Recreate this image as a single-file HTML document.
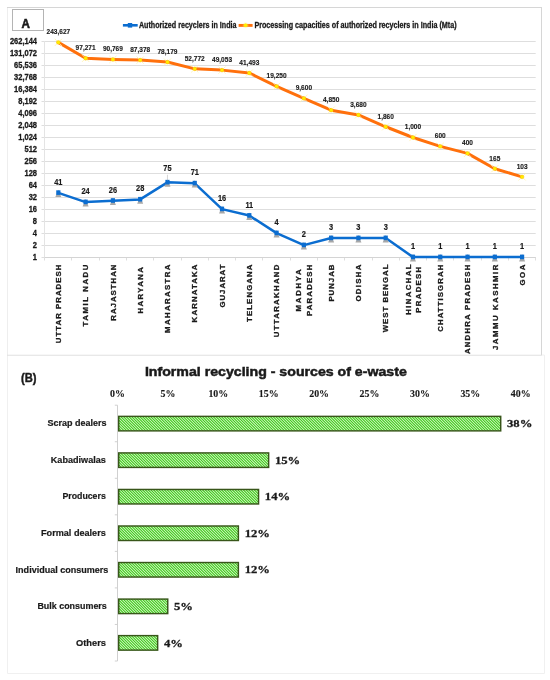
<!DOCTYPE html>
<html><head><meta charset="utf-8"><style>
html,body{margin:0;padding:0;background:#fff;}
body{width:550px;height:680px;overflow:hidden;}
svg{display:block;}
text{font-family:"Liberation Sans",Arial,sans-serif;font-weight:bold;fill:#1a1a1a;stroke:#1a1a1a;stroke-width:0.3px;}
.serif{font-family:"Liberation Serif","Times New Roman",serif;stroke-width:0.12px;}
</style></head><body>
<svg width="550" height="680" viewBox="0 0 550 680">
<defs>
<radialGradient id="glow"><stop offset="0" stop-color="#ffe000" stop-opacity="0.9"/><stop offset="1" stop-color="#fff2a0" stop-opacity="0"/></radialGradient>
<pattern id="hatch" patternUnits="userSpaceOnUse" width="1.92" height="4" patternTransform="rotate(-45)">
<rect width="1.92" height="4" fill="#f0fbe8"/><rect width="0.96" height="4" fill="#46cc22"/></pattern>
</defs>
<rect width="550" height="680" fill="#fff"/>
<path d="M7.5 355 V673.5 H544.5 V355 H541" fill="none" stroke="#f0f0f0" stroke-width="1"/>
<line x1="7.5" y1="7.5" x2="7.5" y2="355" stroke="#eeeeee" stroke-width="1"/>
<line x1="7" y1="7.5" x2="541.5" y2="7.5" stroke="#d6d6d6" stroke-width="1"/>
<line x1="541.5" y1="7" x2="541.5" y2="355" stroke="#d6d6d6" stroke-width="1"/>
<line x1="7" y1="355.3" x2="541.8" y2="355.3" stroke="#e0e0e0" stroke-width="1.1"/>
<rect x="12.5" y="9.5" width="31" height="21" fill="#fff" stroke="#b4b4b4" stroke-width="1"/>
<text x="25.6" y="28.3" font-size="13.2" text-anchor="middle" textLength="8.4" lengthAdjust="spacingAndGlyphs" style="stroke-width:0.6px">A</text>
<line x1="41.5" y1="257.50" x2="535.7" y2="257.50" stroke="#dedede" stroke-width="1"/>
<line x1="41.5" y1="245.50" x2="535.7" y2="245.50" stroke="#dedede" stroke-width="1"/>
<line x1="41.5" y1="233.50" x2="535.7" y2="233.50" stroke="#dedede" stroke-width="1"/>
<line x1="41.5" y1="221.50" x2="535.7" y2="221.50" stroke="#dedede" stroke-width="1"/>
<line x1="41.5" y1="209.50" x2="535.7" y2="209.50" stroke="#dedede" stroke-width="1"/>
<line x1="41.5" y1="197.50" x2="535.7" y2="197.50" stroke="#dedede" stroke-width="1"/>
<line x1="41.5" y1="185.50" x2="535.7" y2="185.50" stroke="#dedede" stroke-width="1"/>
<line x1="41.5" y1="173.50" x2="535.7" y2="173.50" stroke="#dedede" stroke-width="1"/>
<line x1="41.5" y1="161.50" x2="535.7" y2="161.50" stroke="#dedede" stroke-width="1"/>
<line x1="41.5" y1="149.50" x2="535.7" y2="149.50" stroke="#dedede" stroke-width="1"/>
<line x1="41.5" y1="137.50" x2="535.7" y2="137.50" stroke="#dedede" stroke-width="1"/>
<line x1="41.5" y1="125.50" x2="535.7" y2="125.50" stroke="#dedede" stroke-width="1"/>
<line x1="41.5" y1="113.50" x2="535.7" y2="113.50" stroke="#dedede" stroke-width="1"/>
<line x1="41.5" y1="101.50" x2="535.7" y2="101.50" stroke="#dedede" stroke-width="1"/>
<line x1="41.5" y1="89.50" x2="535.7" y2="89.50" stroke="#dedede" stroke-width="1"/>
<line x1="41.5" y1="77.50" x2="535.7" y2="77.50" stroke="#dedede" stroke-width="1"/>
<line x1="41.5" y1="65.50" x2="535.7" y2="65.50" stroke="#dedede" stroke-width="1"/>
<line x1="41.5" y1="53.50" x2="535.7" y2="53.50" stroke="#dedede" stroke-width="1"/>
<line x1="41.5" y1="41.50" x2="535.7" y2="41.50" stroke="#dedede" stroke-width="1"/>
<line x1="44.5" y1="41" x2="44.5" y2="258" stroke="#e4e4e4" stroke-width="1"/>
<text x="37.0" y="260.00" font-size="8.5" text-anchor="end" textLength="4.17" lengthAdjust="spacingAndGlyphs">1</text>
<text x="37.0" y="248.00" font-size="8.5" text-anchor="end" textLength="4.17" lengthAdjust="spacingAndGlyphs">2</text>
<text x="37.0" y="236.00" font-size="8.5" text-anchor="end" textLength="4.17" lengthAdjust="spacingAndGlyphs">4</text>
<text x="37.0" y="224.00" font-size="8.5" text-anchor="end" textLength="4.17" lengthAdjust="spacingAndGlyphs">8</text>
<text x="37.0" y="212.00" font-size="8.5" text-anchor="end" textLength="8.34" lengthAdjust="spacingAndGlyphs">16</text>
<text x="37.0" y="200.00" font-size="8.5" text-anchor="end" textLength="8.34" lengthAdjust="spacingAndGlyphs">32</text>
<text x="37.0" y="188.00" font-size="8.5" text-anchor="end" textLength="8.34" lengthAdjust="spacingAndGlyphs">64</text>
<text x="37.0" y="176.00" font-size="8.5" text-anchor="end" textLength="12.51" lengthAdjust="spacingAndGlyphs">128</text>
<text x="37.0" y="164.00" font-size="8.5" text-anchor="end" textLength="12.51" lengthAdjust="spacingAndGlyphs">256</text>
<text x="37.0" y="152.00" font-size="8.5" text-anchor="end" textLength="12.51" lengthAdjust="spacingAndGlyphs">512</text>
<text x="37.0" y="140.00" font-size="8.5" text-anchor="end" textLength="18.77" lengthAdjust="spacingAndGlyphs">1,024</text>
<text x="37.0" y="128.00" font-size="8.5" text-anchor="end" textLength="18.77" lengthAdjust="spacingAndGlyphs">2,048</text>
<text x="37.0" y="116.00" font-size="8.5" text-anchor="end" textLength="18.77" lengthAdjust="spacingAndGlyphs">4,096</text>
<text x="37.0" y="104.00" font-size="8.5" text-anchor="end" textLength="18.77" lengthAdjust="spacingAndGlyphs">8,192</text>
<text x="37.0" y="92.00" font-size="8.5" text-anchor="end" textLength="22.94" lengthAdjust="spacingAndGlyphs">16,384</text>
<text x="37.0" y="80.00" font-size="8.5" text-anchor="end" textLength="22.94" lengthAdjust="spacingAndGlyphs">32,768</text>
<text x="37.0" y="68.00" font-size="8.5" text-anchor="end" textLength="22.94" lengthAdjust="spacingAndGlyphs">65,536</text>
<text x="37.0" y="56.00" font-size="8.5" text-anchor="end" textLength="27.11" lengthAdjust="spacingAndGlyphs">131,072</text>
<text x="37.0" y="44.00" font-size="8.5" text-anchor="end" textLength="27.11" lengthAdjust="spacingAndGlyphs">262,144</text>
<line x1="44.50" y1="257.5" x2="44.50" y2="260.5" stroke="#dedede" stroke-width="1"/>
<line x1="71.50" y1="257.5" x2="71.50" y2="260.5" stroke="#dedede" stroke-width="1"/>
<line x1="99.50" y1="257.5" x2="99.50" y2="260.5" stroke="#dedede" stroke-width="1"/>
<line x1="126.50" y1="257.5" x2="126.50" y2="260.5" stroke="#dedede" stroke-width="1"/>
<line x1="153.50" y1="257.5" x2="153.50" y2="260.5" stroke="#dedede" stroke-width="1"/>
<line x1="181.50" y1="257.5" x2="181.50" y2="260.5" stroke="#dedede" stroke-width="1"/>
<line x1="208.50" y1="257.5" x2="208.50" y2="260.5" stroke="#dedede" stroke-width="1"/>
<line x1="235.50" y1="257.5" x2="235.50" y2="260.5" stroke="#dedede" stroke-width="1"/>
<line x1="262.50" y1="257.5" x2="262.50" y2="260.5" stroke="#dedede" stroke-width="1"/>
<line x1="290.50" y1="257.5" x2="290.50" y2="260.5" stroke="#dedede" stroke-width="1"/>
<line x1="317.50" y1="257.5" x2="317.50" y2="260.5" stroke="#dedede" stroke-width="1"/>
<line x1="344.50" y1="257.5" x2="344.50" y2="260.5" stroke="#dedede" stroke-width="1"/>
<line x1="372.50" y1="257.5" x2="372.50" y2="260.5" stroke="#dedede" stroke-width="1"/>
<line x1="399.50" y1="257.5" x2="399.50" y2="260.5" stroke="#dedede" stroke-width="1"/>
<line x1="426.50" y1="257.5" x2="426.50" y2="260.5" stroke="#dedede" stroke-width="1"/>
<line x1="453.50" y1="257.5" x2="453.50" y2="260.5" stroke="#dedede" stroke-width="1"/>
<line x1="481.50" y1="257.5" x2="481.50" y2="260.5" stroke="#dedede" stroke-width="1"/>
<line x1="508.50" y1="257.5" x2="508.50" y2="260.5" stroke="#dedede" stroke-width="1"/>
<line x1="535.50" y1="257.5" x2="535.50" y2="260.5" stroke="#dedede" stroke-width="1"/>
<text transform="translate(61.09,264.60) rotate(-90)" font-size="7.8" text-anchor="end" textLength="78.6" lengthAdjust="spacing">UTTAR PRADESH</text>
<text transform="translate(88.37,264.60) rotate(-90)" font-size="7.8" text-anchor="end" textLength="61.8" lengthAdjust="spacing">TAMIL NADU</text>
<text transform="translate(115.65,264.60) rotate(-90)" font-size="7.8" text-anchor="end" textLength="56.1" lengthAdjust="spacing">RAJASTHAN</text>
<text transform="translate(142.93,267.20) rotate(-90)" font-size="7.8" text-anchor="end" textLength="46.2" lengthAdjust="spacing">HARYANA</text>
<text transform="translate(170.21,264.60) rotate(-90)" font-size="7.8" text-anchor="end" textLength="68.3" lengthAdjust="spacing">MAHARASTRA</text>
<text transform="translate(197.49,264.60) rotate(-90)" font-size="7.8" text-anchor="end" textLength="57.8" lengthAdjust="spacing">KARNATAKA</text>
<text transform="translate(224.77,264.60) rotate(-90)" font-size="7.8" text-anchor="end" textLength="43.0" lengthAdjust="spacing">GUJARAT</text>
<text transform="translate(252.05,264.60) rotate(-90)" font-size="7.8" text-anchor="end" textLength="57.3" lengthAdjust="spacing">TELENGANA</text>
<text transform="translate(279.33,264.60) rotate(-90)" font-size="7.8" text-anchor="end" textLength="72.6" lengthAdjust="spacing">UTTARAKHAND</text>
<text transform="translate(301.41,290.35) rotate(-90)" font-size="7.8" text-anchor="middle" textLength="42.1" lengthAdjust="spacing">MADHYA</text>
<text transform="translate(311.81,290.35) rotate(-90)" font-size="7.8" text-anchor="middle" textLength="51.5" lengthAdjust="spacing">PARADESH</text>
<text transform="translate(333.89,264.60) rotate(-90)" font-size="7.8" text-anchor="end" textLength="37.0" lengthAdjust="spacing">PUNJAB</text>
<text transform="translate(361.17,264.60) rotate(-90)" font-size="7.8" text-anchor="end" textLength="37.0" lengthAdjust="spacing">ODISHA</text>
<text transform="translate(388.45,264.60) rotate(-90)" font-size="7.8" text-anchor="end" textLength="67.7" lengthAdjust="spacing">WEST BENGAL</text>
<text transform="translate(410.53,289.70) rotate(-90)" font-size="7.8" text-anchor="middle" textLength="50.2" lengthAdjust="spacing">HINACHAL</text>
<text transform="translate(420.93,289.70) rotate(-90)" font-size="7.8" text-anchor="middle" textLength="45.9" lengthAdjust="spacing">PRADESH</text>
<text transform="translate(443.01,264.60) rotate(-90)" font-size="7.8" text-anchor="end" textLength="67.2" lengthAdjust="spacing">CHATTISGRAH</text>
<text transform="translate(470.29,264.60) rotate(-90)" font-size="7.8" text-anchor="end" textLength="89.5" lengthAdjust="spacing">ANDHRA PRADESH</text>
<text transform="translate(497.57,264.60) rotate(-90)" font-size="7.8" text-anchor="end" textLength="85.4" lengthAdjust="spacing">JAMMU KASHMIR</text>
<text transform="translate(524.85,264.60) rotate(-90)" font-size="7.8" text-anchor="end" textLength="21.0" lengthAdjust="spacing">GOA</text>
<line x1="44.70" y1="257.5" x2="535.7" y2="257.5" stroke="#d4d4d4" stroke-width="1"/>
<polyline points="58.34,42.37 85.62,58.26 112.90,59.46 140.18,60.12 167.46,62.05 194.74,68.85 222.02,70.12 249.30,73.01 276.58,86.31 303.86,98.35 331.14,110.17 358.42,114.95 385.70,126.77 412.98,137.51 440.26,146.35 467.54,153.37 494.82,168.70 522.10,176.86" fill="none" stroke="#ff700c" stroke-width="3" stroke-linejoin="round"/>
<path d="M54.74 38.77L61.94 45.97M54.74 45.97L61.94 38.77" stroke="#fff3a8" stroke-width="0.8"/>
<circle cx="58.34" cy="42.37" r="1.9" fill="#ffec00" stroke="#ffb000" stroke-width="0.4"/>
<path d="M82.02 54.66L89.22 61.86M82.02 61.86L89.22 54.66" stroke="#fff3a8" stroke-width="0.8"/>
<circle cx="85.62" cy="58.26" r="1.9" fill="#ffec00" stroke="#ffb000" stroke-width="0.4"/>
<path d="M109.30 55.86L116.50 63.06M109.30 63.06L116.50 55.86" stroke="#fff3a8" stroke-width="0.8"/>
<circle cx="112.90" cy="59.46" r="1.9" fill="#ffec00" stroke="#ffb000" stroke-width="0.4"/>
<path d="M136.58 56.52L143.78 63.72M136.58 63.72L143.78 56.52" stroke="#fff3a8" stroke-width="0.8"/>
<circle cx="140.18" cy="60.12" r="1.9" fill="#ffec00" stroke="#ffb000" stroke-width="0.4"/>
<path d="M163.86 58.45L171.06 65.65M163.86 65.65L171.06 58.45" stroke="#fff3a8" stroke-width="0.8"/>
<circle cx="167.46" cy="62.05" r="1.9" fill="#ffec00" stroke="#ffb000" stroke-width="0.4"/>
<path d="M191.14 65.25L198.34 72.45M191.14 72.45L198.34 65.25" stroke="#fff3a8" stroke-width="0.8"/>
<circle cx="194.74" cy="68.85" r="1.9" fill="#ffec00" stroke="#ffb000" stroke-width="0.4"/>
<path d="M218.42 66.52L225.62 73.72M218.42 73.72L225.62 66.52" stroke="#fff3a8" stroke-width="0.8"/>
<circle cx="222.02" cy="70.12" r="1.9" fill="#ffec00" stroke="#ffb000" stroke-width="0.4"/>
<path d="M245.70 69.41L252.90 76.61M245.70 76.61L252.90 69.41" stroke="#fff3a8" stroke-width="0.8"/>
<circle cx="249.30" cy="73.01" r="1.9" fill="#ffec00" stroke="#ffb000" stroke-width="0.4"/>
<path d="M272.98 82.71L280.18 89.91M272.98 89.91L280.18 82.71" stroke="#fff3a8" stroke-width="0.8"/>
<circle cx="276.58" cy="86.31" r="1.9" fill="#ffec00" stroke="#ffb000" stroke-width="0.4"/>
<path d="M300.26 94.75L307.46 101.95M300.26 101.95L307.46 94.75" stroke="#fff3a8" stroke-width="0.8"/>
<circle cx="303.86" cy="98.35" r="1.9" fill="#ffec00" stroke="#ffb000" stroke-width="0.4"/>
<path d="M327.54 106.57L334.74 113.77M327.54 113.77L334.74 106.57" stroke="#fff3a8" stroke-width="0.8"/>
<circle cx="331.14" cy="110.17" r="1.9" fill="#ffec00" stroke="#ffb000" stroke-width="0.4"/>
<path d="M354.82 111.35L362.02 118.55M354.82 118.55L362.02 111.35" stroke="#fff3a8" stroke-width="0.8"/>
<circle cx="358.42" cy="114.95" r="1.9" fill="#ffec00" stroke="#ffb000" stroke-width="0.4"/>
<path d="M382.10 123.17L389.30 130.37M382.10 130.37L389.30 123.17" stroke="#fff3a8" stroke-width="0.8"/>
<circle cx="385.70" cy="126.77" r="1.9" fill="#ffec00" stroke="#ffb000" stroke-width="0.4"/>
<path d="M409.38 133.91L416.58 141.11M409.38 141.11L416.58 133.91" stroke="#fff3a8" stroke-width="0.8"/>
<circle cx="412.98" cy="137.51" r="1.9" fill="#ffec00" stroke="#ffb000" stroke-width="0.4"/>
<path d="M436.66 142.75L443.86 149.95M436.66 149.95L443.86 142.75" stroke="#fff3a8" stroke-width="0.8"/>
<circle cx="440.26" cy="146.35" r="1.9" fill="#ffec00" stroke="#ffb000" stroke-width="0.4"/>
<path d="M463.94 149.77L471.14 156.97M463.94 156.97L471.14 149.77" stroke="#fff3a8" stroke-width="0.8"/>
<circle cx="467.54" cy="153.37" r="1.9" fill="#ffec00" stroke="#ffb000" stroke-width="0.4"/>
<path d="M491.22 165.10L498.42 172.30M491.22 172.30L498.42 165.10" stroke="#fff3a8" stroke-width="0.8"/>
<circle cx="494.82" cy="168.70" r="1.9" fill="#ffec00" stroke="#ffb000" stroke-width="0.4"/>
<path d="M518.50 173.26L525.70 180.46M518.50 180.46L525.70 173.26" stroke="#fff3a8" stroke-width="0.8"/>
<circle cx="522.10" cy="176.86" r="1.9" fill="#ffec00" stroke="#ffb000" stroke-width="0.4"/>
<polyline points="58.34,192.81 85.62,202.08 112.90,200.69 140.18,199.41 167.46,182.35 194.74,183.30 222.02,209.10 249.30,215.59 276.58,233.10 303.86,245.10 331.14,238.08 358.42,238.08 385.70,238.08 412.98,257.10 440.26,257.10 467.54,257.10 494.82,257.10 522.10,257.10" fill="none" stroke="#0b6dd0" stroke-width="2.5" stroke-linejoin="round"/>
<path d="M55.34 197.11 L58.34 189.81 L61.34 197.11Z" fill="#a8a8a8"/>
<rect x="56.24" y="190.31" width="4.2" height="4.6" fill="#0b6dd0"/>
<path d="M82.62 206.38 L85.62 199.08 L88.62 206.38Z" fill="#a8a8a8"/>
<rect x="83.52" y="199.58" width="4.2" height="4.6" fill="#0b6dd0"/>
<path d="M109.90 204.99 L112.90 197.69 L115.90 204.99Z" fill="#a8a8a8"/>
<rect x="110.80" y="198.19" width="4.2" height="4.6" fill="#0b6dd0"/>
<path d="M137.18 203.71 L140.18 196.41 L143.18 203.71Z" fill="#a8a8a8"/>
<rect x="138.08" y="196.91" width="4.2" height="4.6" fill="#0b6dd0"/>
<path d="M164.46 186.65 L167.46 179.35 L170.46 186.65Z" fill="#a8a8a8"/>
<rect x="165.36" y="179.85" width="4.2" height="4.6" fill="#0b6dd0"/>
<path d="M191.74 187.60 L194.74 180.30 L197.74 187.60Z" fill="#a8a8a8"/>
<rect x="192.64" y="180.80" width="4.2" height="4.6" fill="#0b6dd0"/>
<path d="M219.02 213.40 L222.02 206.10 L225.02 213.40Z" fill="#a8a8a8"/>
<rect x="219.92" y="206.60" width="4.2" height="4.6" fill="#0b6dd0"/>
<path d="M246.30 219.89 L249.30 212.59 L252.30 219.89Z" fill="#a8a8a8"/>
<rect x="247.20" y="213.09" width="4.2" height="4.6" fill="#0b6dd0"/>
<path d="M273.58 237.40 L276.58 230.10 L279.58 237.40Z" fill="#a8a8a8"/>
<rect x="274.48" y="230.60" width="4.2" height="4.6" fill="#0b6dd0"/>
<path d="M300.86 249.40 L303.86 242.10 L306.86 249.40Z" fill="#a8a8a8"/>
<rect x="301.76" y="242.60" width="4.2" height="4.6" fill="#0b6dd0"/>
<path d="M328.14 242.38 L331.14 235.08 L334.14 242.38Z" fill="#a8a8a8"/>
<rect x="329.04" y="235.58" width="4.2" height="4.6" fill="#0b6dd0"/>
<path d="M355.42 242.38 L358.42 235.08 L361.42 242.38Z" fill="#a8a8a8"/>
<rect x="356.32" y="235.58" width="4.2" height="4.6" fill="#0b6dd0"/>
<path d="M382.70 242.38 L385.70 235.08 L388.70 242.38Z" fill="#a8a8a8"/>
<rect x="383.60" y="235.58" width="4.2" height="4.6" fill="#0b6dd0"/>
<path d="M409.98 261.40 L412.98 254.10 L415.98 261.40Z" fill="#a8a8a8"/>
<rect x="410.88" y="254.60" width="4.2" height="4.6" fill="#0b6dd0"/>
<path d="M437.26 261.40 L440.26 254.10 L443.26 261.40Z" fill="#a8a8a8"/>
<rect x="438.16" y="254.60" width="4.2" height="4.6" fill="#0b6dd0"/>
<path d="M464.54 261.40 L467.54 254.10 L470.54 261.40Z" fill="#a8a8a8"/>
<rect x="465.44" y="254.60" width="4.2" height="4.6" fill="#0b6dd0"/>
<path d="M491.82 261.40 L494.82 254.10 L497.82 261.40Z" fill="#a8a8a8"/>
<rect x="492.72" y="254.60" width="4.2" height="4.6" fill="#0b6dd0"/>
<path d="M519.10 261.40 L522.10 254.10 L525.10 261.40Z" fill="#a8a8a8"/>
<rect x="520.00" y="254.60" width="4.2" height="4.6" fill="#0b6dd0"/>
<text x="58.34" y="34.27" font-size="8.0" text-anchor="middle" style="stroke-width:0.15px" textLength="23.64" lengthAdjust="spacingAndGlyphs">243,627</text>
<text x="85.62" y="50.16" font-size="8.0" text-anchor="middle" style="stroke-width:0.15px" textLength="20.00" lengthAdjust="spacingAndGlyphs">97,271</text>
<text x="112.90" y="51.36" font-size="8.0" text-anchor="middle" style="stroke-width:0.15px" textLength="20.00" lengthAdjust="spacingAndGlyphs">90,769</text>
<text x="140.18" y="52.02" font-size="8.0" text-anchor="middle" style="stroke-width:0.15px" textLength="20.00" lengthAdjust="spacingAndGlyphs">87,378</text>
<text x="167.46" y="53.95" font-size="8.0" text-anchor="middle" style="stroke-width:0.15px" textLength="20.00" lengthAdjust="spacingAndGlyphs">78,179</text>
<text x="194.74" y="60.75" font-size="8.0" text-anchor="middle" style="stroke-width:0.15px" textLength="20.00" lengthAdjust="spacingAndGlyphs">52,772</text>
<text x="222.02" y="62.02" font-size="8.0" text-anchor="middle" style="stroke-width:0.15px" textLength="20.00" lengthAdjust="spacingAndGlyphs">49,053</text>
<text x="249.30" y="64.91" font-size="8.0" text-anchor="middle" style="stroke-width:0.15px" textLength="20.00" lengthAdjust="spacingAndGlyphs">41,493</text>
<text x="276.58" y="78.21" font-size="8.0" text-anchor="middle" style="stroke-width:0.15px" textLength="20.00" lengthAdjust="spacingAndGlyphs">19,250</text>
<text x="303.86" y="90.25" font-size="8.0" text-anchor="middle" style="stroke-width:0.15px" textLength="16.37" lengthAdjust="spacingAndGlyphs">9,600</text>
<text x="331.14" y="102.07" font-size="8.0" text-anchor="middle" style="stroke-width:0.15px" textLength="16.37" lengthAdjust="spacingAndGlyphs">4,850</text>
<text x="358.42" y="106.85" font-size="8.0" text-anchor="middle" style="stroke-width:0.15px" textLength="16.37" lengthAdjust="spacingAndGlyphs">3,680</text>
<text x="385.70" y="118.67" font-size="8.0" text-anchor="middle" style="stroke-width:0.15px" textLength="16.37" lengthAdjust="spacingAndGlyphs">1,860</text>
<text x="412.98" y="129.41" font-size="8.0" text-anchor="middle" style="stroke-width:0.15px" textLength="16.37" lengthAdjust="spacingAndGlyphs">1,000</text>
<text x="440.26" y="138.25" font-size="8.0" text-anchor="middle" style="stroke-width:0.15px" textLength="10.91" lengthAdjust="spacingAndGlyphs">600</text>
<text x="467.54" y="145.27" font-size="8.0" text-anchor="middle" style="stroke-width:0.15px" textLength="10.91" lengthAdjust="spacingAndGlyphs">400</text>
<text x="494.82" y="160.60" font-size="8.0" text-anchor="middle" style="stroke-width:0.15px" textLength="10.91" lengthAdjust="spacingAndGlyphs">165</text>
<text x="522.10" y="168.76" font-size="8.0" text-anchor="middle" style="stroke-width:0.15px" textLength="10.91" lengthAdjust="spacingAndGlyphs">103</text>
<text x="58.34" y="184.81" font-size="8.5" text-anchor="middle" style="stroke-width:0.2px" textLength="8.23" lengthAdjust="spacingAndGlyphs">41</text>
<text x="85.62" y="194.08" font-size="8.5" text-anchor="middle" style="stroke-width:0.2px" textLength="8.23" lengthAdjust="spacingAndGlyphs">24</text>
<text x="112.90" y="192.69" font-size="8.5" text-anchor="middle" style="stroke-width:0.2px" textLength="8.23" lengthAdjust="spacingAndGlyphs">26</text>
<text x="140.18" y="191.41" font-size="8.5" text-anchor="middle" style="stroke-width:0.2px" textLength="8.23" lengthAdjust="spacingAndGlyphs">28</text>
<line x1="167.46" y1="174.75" x2="167.46" y2="180.35" stroke="#b8b8b8" stroke-width="0.6"/>
<text x="167.46" y="170.75" font-size="8.5" text-anchor="middle" style="stroke-width:0.2px" textLength="8.23" lengthAdjust="spacingAndGlyphs">75</text>
<text x="194.74" y="175.30" font-size="8.5" text-anchor="middle" style="stroke-width:0.2px" textLength="8.23" lengthAdjust="spacingAndGlyphs">71</text>
<text x="222.02" y="201.10" font-size="8.5" text-anchor="middle" style="stroke-width:0.2px" textLength="8.23" lengthAdjust="spacingAndGlyphs">16</text>
<text x="249.30" y="207.59" font-size="8.5" text-anchor="middle" style="stroke-width:0.2px" textLength="7.82" lengthAdjust="spacingAndGlyphs">11</text>
<text x="276.58" y="225.10" font-size="8.5" text-anchor="middle" style="stroke-width:0.2px" textLength="4.12" lengthAdjust="spacingAndGlyphs">4</text>
<text x="303.86" y="237.10" font-size="8.5" text-anchor="middle" style="stroke-width:0.2px" textLength="4.12" lengthAdjust="spacingAndGlyphs">2</text>
<text x="331.14" y="230.08" font-size="8.5" text-anchor="middle" style="stroke-width:0.2px" textLength="4.12" lengthAdjust="spacingAndGlyphs">3</text>
<text x="358.42" y="230.08" font-size="8.5" text-anchor="middle" style="stroke-width:0.2px" textLength="4.12" lengthAdjust="spacingAndGlyphs">3</text>
<text x="385.70" y="230.08" font-size="8.5" text-anchor="middle" style="stroke-width:0.2px" textLength="4.12" lengthAdjust="spacingAndGlyphs">3</text>
<text x="412.98" y="249.10" font-size="8.5" text-anchor="middle" style="stroke-width:0.2px" textLength="4.12" lengthAdjust="spacingAndGlyphs">1</text>
<text x="440.26" y="249.10" font-size="8.5" text-anchor="middle" style="stroke-width:0.2px" textLength="4.12" lengthAdjust="spacingAndGlyphs">1</text>
<text x="467.54" y="249.10" font-size="8.5" text-anchor="middle" style="stroke-width:0.2px" textLength="4.12" lengthAdjust="spacingAndGlyphs">1</text>
<text x="494.82" y="249.10" font-size="8.5" text-anchor="middle" style="stroke-width:0.2px" textLength="4.12" lengthAdjust="spacingAndGlyphs">1</text>
<text x="522.10" y="249.10" font-size="8.5" text-anchor="middle" style="stroke-width:0.2px" textLength="4.12" lengthAdjust="spacingAndGlyphs">1</text>
<line x1="122.9" y1="25.3" x2="137.7" y2="25.3" stroke="#0b6dd0" stroke-width="2.6"/>
<rect x="127.8" y="23.0" width="4.4" height="4.6" fill="#0b6dd0"/>
<text x="138.9" y="27.7" font-size="8.6" textLength="97.6" lengthAdjust="spacingAndGlyphs">Authorized recyclers in India</text>
<line x1="238.6" y1="25.4" x2="252.6" y2="25.4" stroke="#ff700c" stroke-width="2.9"/>
<circle cx="245.6" cy="25.3" r="3.5" fill="url(#glow)"/>
<circle cx="245.6" cy="25.3" r="1.8" fill="#ffee00"/>
<text x="254.4" y="27.7" font-size="8.6" textLength="202.2" lengthAdjust="spacingAndGlyphs">Processing capacities of authorized recyclers in India (Mta)</text>
<text x="21.1" y="382.3" font-size="12.6" style="stroke-width:0.45px" textLength="15.5" lengthAdjust="spacingAndGlyphs">(B)</text>
<text x="144.9" y="375.5" font-size="13.1" style="stroke-width:0.5px" textLength="261.9" lengthAdjust="spacingAndGlyphs">Informal recycling - sources of e-waste</text>
<text x="117.50" y="397.4" font-size="9.5" text-anchor="middle" class="serif" textLength="14.82" lengthAdjust="spacingAndGlyphs">0%</text>
<text x="167.90" y="397.4" font-size="9.5" text-anchor="middle" class="serif" textLength="14.82" lengthAdjust="spacingAndGlyphs">5%</text>
<text x="218.30" y="397.4" font-size="9.5" text-anchor="middle" class="serif" textLength="19.76" lengthAdjust="spacingAndGlyphs">10%</text>
<text x="268.70" y="397.4" font-size="9.5" text-anchor="middle" class="serif" textLength="19.76" lengthAdjust="spacingAndGlyphs">15%</text>
<text x="319.10" y="397.4" font-size="9.5" text-anchor="middle" class="serif" textLength="19.76" lengthAdjust="spacingAndGlyphs">20%</text>
<text x="369.50" y="397.4" font-size="9.5" text-anchor="middle" class="serif" textLength="19.76" lengthAdjust="spacingAndGlyphs">25%</text>
<text x="419.90" y="397.4" font-size="9.5" text-anchor="middle" class="serif" textLength="19.76" lengthAdjust="spacingAndGlyphs">30%</text>
<text x="470.30" y="397.4" font-size="9.5" text-anchor="middle" class="serif" textLength="19.76" lengthAdjust="spacingAndGlyphs">35%</text>
<text x="520.70" y="397.4" font-size="9.5" text-anchor="middle" class="serif" textLength="19.76" lengthAdjust="spacingAndGlyphs">40%</text>
<line x1="117.50" y1="405.20" x2="117.50" y2="661" stroke="#d0d0d0" stroke-width="1"/>
<line x1="114.8" y1="405.20" x2="117.50" y2="405.20" stroke="#d0d0d0" stroke-width="1"/>
<line x1="114.8" y1="441.74" x2="117.50" y2="441.74" stroke="#d0d0d0" stroke-width="1"/>
<line x1="114.8" y1="478.29" x2="117.50" y2="478.29" stroke="#d0d0d0" stroke-width="1"/>
<line x1="114.8" y1="514.83" x2="117.50" y2="514.83" stroke="#d0d0d0" stroke-width="1"/>
<line x1="114.8" y1="551.37" x2="117.50" y2="551.37" stroke="#d0d0d0" stroke-width="1"/>
<line x1="114.8" y1="587.91" x2="117.50" y2="587.91" stroke="#d0d0d0" stroke-width="1"/>
<line x1="114.8" y1="624.46" x2="117.50" y2="624.46" stroke="#d0d0d0" stroke-width="1"/>
<line x1="114.8" y1="661.00" x2="117.50" y2="661.00" stroke="#d0d0d0" stroke-width="1"/>
<clipPath id="cb0"><rect x="118.70" y="416.37" width="382.02" height="14.5"/></clipPath>
<rect x="118.70" y="416.37" width="382.02" height="14.5" fill="#eefae6"/>
<path clip-path="url(#cb0)" d="M103.20 415.37l16.5 16.5M105.92 415.37l16.5 16.5M108.64 415.37l16.5 16.5M111.36 415.37l16.5 16.5M114.08 415.37l16.5 16.5M116.80 415.37l16.5 16.5M119.52 415.37l16.5 16.5M122.24 415.37l16.5 16.5M124.96 415.37l16.5 16.5M127.68 415.37l16.5 16.5M130.40 415.37l16.5 16.5M133.12 415.37l16.5 16.5M135.84 415.37l16.5 16.5M138.56 415.37l16.5 16.5M141.28 415.37l16.5 16.5M144.00 415.37l16.5 16.5M146.72 415.37l16.5 16.5M149.44 415.37l16.5 16.5M152.16 415.37l16.5 16.5M154.88 415.37l16.5 16.5M157.60 415.37l16.5 16.5M160.32 415.37l16.5 16.5M163.04 415.37l16.5 16.5M165.76 415.37l16.5 16.5M168.48 415.37l16.5 16.5M171.20 415.37l16.5 16.5M173.92 415.37l16.5 16.5M176.64 415.37l16.5 16.5M179.36 415.37l16.5 16.5M182.08 415.37l16.5 16.5M184.80 415.37l16.5 16.5M187.52 415.37l16.5 16.5M190.24 415.37l16.5 16.5M192.96 415.37l16.5 16.5M195.68 415.37l16.5 16.5M198.40 415.37l16.5 16.5M201.12 415.37l16.5 16.5M203.84 415.37l16.5 16.5M206.56 415.37l16.5 16.5M209.28 415.37l16.5 16.5M212.00 415.37l16.5 16.5M214.72 415.37l16.5 16.5M217.44 415.37l16.5 16.5M220.16 415.37l16.5 16.5M222.88 415.37l16.5 16.5M225.60 415.37l16.5 16.5M228.32 415.37l16.5 16.5M231.04 415.37l16.5 16.5M233.76 415.37l16.5 16.5M236.48 415.37l16.5 16.5M239.20 415.37l16.5 16.5M241.92 415.37l16.5 16.5M244.64 415.37l16.5 16.5M247.36 415.37l16.5 16.5M250.08 415.37l16.5 16.5M252.80 415.37l16.5 16.5M255.52 415.37l16.5 16.5M258.24 415.37l16.5 16.5M260.96 415.37l16.5 16.5M263.68 415.37l16.5 16.5M266.40 415.37l16.5 16.5M269.12 415.37l16.5 16.5M271.84 415.37l16.5 16.5M274.56 415.37l16.5 16.5M277.28 415.37l16.5 16.5M280.00 415.37l16.5 16.5M282.72 415.37l16.5 16.5M285.44 415.37l16.5 16.5M288.16 415.37l16.5 16.5M290.88 415.37l16.5 16.5M293.60 415.37l16.5 16.5M296.32 415.37l16.5 16.5M299.04 415.37l16.5 16.5M301.76 415.37l16.5 16.5M304.48 415.37l16.5 16.5M307.20 415.37l16.5 16.5M309.92 415.37l16.5 16.5M312.64 415.37l16.5 16.5M315.36 415.37l16.5 16.5M318.08 415.37l16.5 16.5M320.80 415.37l16.5 16.5M323.52 415.37l16.5 16.5M326.24 415.37l16.5 16.5M328.96 415.37l16.5 16.5M331.68 415.37l16.5 16.5M334.40 415.37l16.5 16.5M337.12 415.37l16.5 16.5M339.84 415.37l16.5 16.5M342.56 415.37l16.5 16.5M345.28 415.37l16.5 16.5M348.00 415.37l16.5 16.5M350.72 415.37l16.5 16.5M353.44 415.37l16.5 16.5M356.16 415.37l16.5 16.5M358.88 415.37l16.5 16.5M361.60 415.37l16.5 16.5M364.32 415.37l16.5 16.5M367.04 415.37l16.5 16.5M369.76 415.37l16.5 16.5M372.48 415.37l16.5 16.5M375.20 415.37l16.5 16.5M377.92 415.37l16.5 16.5M380.64 415.37l16.5 16.5M383.36 415.37l16.5 16.5M386.08 415.37l16.5 16.5M388.80 415.37l16.5 16.5M391.52 415.37l16.5 16.5M394.24 415.37l16.5 16.5M396.96 415.37l16.5 16.5M399.68 415.37l16.5 16.5M402.40 415.37l16.5 16.5M405.12 415.37l16.5 16.5M407.84 415.37l16.5 16.5M410.56 415.37l16.5 16.5M413.28 415.37l16.5 16.5M416.00 415.37l16.5 16.5M418.72 415.37l16.5 16.5M421.44 415.37l16.5 16.5M424.16 415.37l16.5 16.5M426.88 415.37l16.5 16.5M429.60 415.37l16.5 16.5M432.32 415.37l16.5 16.5M435.04 415.37l16.5 16.5M437.76 415.37l16.5 16.5M440.48 415.37l16.5 16.5M443.20 415.37l16.5 16.5M445.92 415.37l16.5 16.5M448.64 415.37l16.5 16.5M451.36 415.37l16.5 16.5M454.08 415.37l16.5 16.5M456.80 415.37l16.5 16.5M459.52 415.37l16.5 16.5M462.24 415.37l16.5 16.5M464.96 415.37l16.5 16.5M467.68 415.37l16.5 16.5M470.40 415.37l16.5 16.5M473.12 415.37l16.5 16.5M475.84 415.37l16.5 16.5M478.56 415.37l16.5 16.5M481.28 415.37l16.5 16.5M484.00 415.37l16.5 16.5M486.72 415.37l16.5 16.5M489.44 415.37l16.5 16.5M492.16 415.37l16.5 16.5M494.88 415.37l16.5 16.5M497.60 415.37l16.5 16.5M500.32 415.37l16.5 16.5" stroke="#44cc20" stroke-width="1.2" fill="none"/>
<rect x="118.70" y="416.37" width="382.02" height="14.5" fill="none" stroke="#38561a" stroke-width="1.45"/>
<text x="47.50" y="426.37" font-size="9.4" style="stroke-width:0.2px" textLength="58.90" lengthAdjust="spacingAndGlyphs">Scrap dealers</text>
<text x="507.02" y="427.27" font-size="11.2" class="serif" style="stroke-width:0.3px" textLength="25.31" lengthAdjust="spacingAndGlyphs">38%</text>
<clipPath id="cb1"><rect x="118.70" y="452.91" width="149.95" height="14.5"/></clipPath>
<rect x="118.70" y="452.91" width="149.95" height="14.5" fill="#eefae6"/>
<path clip-path="url(#cb1)" d="M103.20 451.91l16.5 16.5M105.92 451.91l16.5 16.5M108.64 451.91l16.5 16.5M111.36 451.91l16.5 16.5M114.08 451.91l16.5 16.5M116.80 451.91l16.5 16.5M119.52 451.91l16.5 16.5M122.24 451.91l16.5 16.5M124.96 451.91l16.5 16.5M127.68 451.91l16.5 16.5M130.40 451.91l16.5 16.5M133.12 451.91l16.5 16.5M135.84 451.91l16.5 16.5M138.56 451.91l16.5 16.5M141.28 451.91l16.5 16.5M144.00 451.91l16.5 16.5M146.72 451.91l16.5 16.5M149.44 451.91l16.5 16.5M152.16 451.91l16.5 16.5M154.88 451.91l16.5 16.5M157.60 451.91l16.5 16.5M160.32 451.91l16.5 16.5M163.04 451.91l16.5 16.5M165.76 451.91l16.5 16.5M168.48 451.91l16.5 16.5M171.20 451.91l16.5 16.5M173.92 451.91l16.5 16.5M176.64 451.91l16.5 16.5M179.36 451.91l16.5 16.5M182.08 451.91l16.5 16.5M184.80 451.91l16.5 16.5M187.52 451.91l16.5 16.5M190.24 451.91l16.5 16.5M192.96 451.91l16.5 16.5M195.68 451.91l16.5 16.5M198.40 451.91l16.5 16.5M201.12 451.91l16.5 16.5M203.84 451.91l16.5 16.5M206.56 451.91l16.5 16.5M209.28 451.91l16.5 16.5M212.00 451.91l16.5 16.5M214.72 451.91l16.5 16.5M217.44 451.91l16.5 16.5M220.16 451.91l16.5 16.5M222.88 451.91l16.5 16.5M225.60 451.91l16.5 16.5M228.32 451.91l16.5 16.5M231.04 451.91l16.5 16.5M233.76 451.91l16.5 16.5M236.48 451.91l16.5 16.5M239.20 451.91l16.5 16.5M241.92 451.91l16.5 16.5M244.64 451.91l16.5 16.5M247.36 451.91l16.5 16.5M250.08 451.91l16.5 16.5M252.80 451.91l16.5 16.5M255.52 451.91l16.5 16.5M258.24 451.91l16.5 16.5M260.96 451.91l16.5 16.5M263.68 451.91l16.5 16.5M266.40 451.91l16.5 16.5M269.12 451.91l16.5 16.5" stroke="#44cc20" stroke-width="1.2" fill="none"/>
<rect x="118.70" y="452.91" width="149.95" height="14.5" fill="none" stroke="#38561a" stroke-width="1.45"/>
<text x="50.80" y="462.91" font-size="9.4" style="stroke-width:0.2px" textLength="55.00" lengthAdjust="spacingAndGlyphs">Kabadiwalas</text>
<text x="274.95" y="463.81" font-size="11.2" class="serif" style="stroke-width:0.3px" textLength="25.31" lengthAdjust="spacingAndGlyphs">15%</text>
<clipPath id="cb2"><rect x="118.70" y="489.46" width="139.86" height="14.5"/></clipPath>
<rect x="118.70" y="489.46" width="139.86" height="14.5" fill="#eefae6"/>
<path clip-path="url(#cb2)" d="M103.20 488.46l16.5 16.5M105.92 488.46l16.5 16.5M108.64 488.46l16.5 16.5M111.36 488.46l16.5 16.5M114.08 488.46l16.5 16.5M116.80 488.46l16.5 16.5M119.52 488.46l16.5 16.5M122.24 488.46l16.5 16.5M124.96 488.46l16.5 16.5M127.68 488.46l16.5 16.5M130.40 488.46l16.5 16.5M133.12 488.46l16.5 16.5M135.84 488.46l16.5 16.5M138.56 488.46l16.5 16.5M141.28 488.46l16.5 16.5M144.00 488.46l16.5 16.5M146.72 488.46l16.5 16.5M149.44 488.46l16.5 16.5M152.16 488.46l16.5 16.5M154.88 488.46l16.5 16.5M157.60 488.46l16.5 16.5M160.32 488.46l16.5 16.5M163.04 488.46l16.5 16.5M165.76 488.46l16.5 16.5M168.48 488.46l16.5 16.5M171.20 488.46l16.5 16.5M173.92 488.46l16.5 16.5M176.64 488.46l16.5 16.5M179.36 488.46l16.5 16.5M182.08 488.46l16.5 16.5M184.80 488.46l16.5 16.5M187.52 488.46l16.5 16.5M190.24 488.46l16.5 16.5M192.96 488.46l16.5 16.5M195.68 488.46l16.5 16.5M198.40 488.46l16.5 16.5M201.12 488.46l16.5 16.5M203.84 488.46l16.5 16.5M206.56 488.46l16.5 16.5M209.28 488.46l16.5 16.5M212.00 488.46l16.5 16.5M214.72 488.46l16.5 16.5M217.44 488.46l16.5 16.5M220.16 488.46l16.5 16.5M222.88 488.46l16.5 16.5M225.60 488.46l16.5 16.5M228.32 488.46l16.5 16.5M231.04 488.46l16.5 16.5M233.76 488.46l16.5 16.5M236.48 488.46l16.5 16.5M239.20 488.46l16.5 16.5M241.92 488.46l16.5 16.5M244.64 488.46l16.5 16.5M247.36 488.46l16.5 16.5M250.08 488.46l16.5 16.5M252.80 488.46l16.5 16.5M255.52 488.46l16.5 16.5M258.24 488.46l16.5 16.5" stroke="#44cc20" stroke-width="1.2" fill="none"/>
<rect x="118.70" y="489.46" width="139.86" height="14.5" fill="none" stroke="#38561a" stroke-width="1.45"/>
<text x="62.40" y="499.46" font-size="9.4" style="stroke-width:0.2px" textLength="43.40" lengthAdjust="spacingAndGlyphs">Producers</text>
<text x="264.86" y="500.36" font-size="11.2" class="serif" style="stroke-width:0.3px" textLength="25.31" lengthAdjust="spacingAndGlyphs">14%</text>
<clipPath id="cb3"><rect x="118.70" y="526.00" width="119.68" height="14.5"/></clipPath>
<rect x="118.70" y="526.00" width="119.68" height="14.5" fill="#eefae6"/>
<path clip-path="url(#cb3)" d="M103.20 525.00l16.5 16.5M105.92 525.00l16.5 16.5M108.64 525.00l16.5 16.5M111.36 525.00l16.5 16.5M114.08 525.00l16.5 16.5M116.80 525.00l16.5 16.5M119.52 525.00l16.5 16.5M122.24 525.00l16.5 16.5M124.96 525.00l16.5 16.5M127.68 525.00l16.5 16.5M130.40 525.00l16.5 16.5M133.12 525.00l16.5 16.5M135.84 525.00l16.5 16.5M138.56 525.00l16.5 16.5M141.28 525.00l16.5 16.5M144.00 525.00l16.5 16.5M146.72 525.00l16.5 16.5M149.44 525.00l16.5 16.5M152.16 525.00l16.5 16.5M154.88 525.00l16.5 16.5M157.60 525.00l16.5 16.5M160.32 525.00l16.5 16.5M163.04 525.00l16.5 16.5M165.76 525.00l16.5 16.5M168.48 525.00l16.5 16.5M171.20 525.00l16.5 16.5M173.92 525.00l16.5 16.5M176.64 525.00l16.5 16.5M179.36 525.00l16.5 16.5M182.08 525.00l16.5 16.5M184.80 525.00l16.5 16.5M187.52 525.00l16.5 16.5M190.24 525.00l16.5 16.5M192.96 525.00l16.5 16.5M195.68 525.00l16.5 16.5M198.40 525.00l16.5 16.5M201.12 525.00l16.5 16.5M203.84 525.00l16.5 16.5M206.56 525.00l16.5 16.5M209.28 525.00l16.5 16.5M212.00 525.00l16.5 16.5M214.72 525.00l16.5 16.5M217.44 525.00l16.5 16.5M220.16 525.00l16.5 16.5M222.88 525.00l16.5 16.5M225.60 525.00l16.5 16.5M228.32 525.00l16.5 16.5M231.04 525.00l16.5 16.5M233.76 525.00l16.5 16.5M236.48 525.00l16.5 16.5M239.20 525.00l16.5 16.5" stroke="#44cc20" stroke-width="1.2" fill="none"/>
<rect x="118.70" y="526.00" width="119.68" height="14.5" fill="none" stroke="#38561a" stroke-width="1.45"/>
<text x="41.00" y="536.00" font-size="9.4" style="stroke-width:0.2px" textLength="64.80" lengthAdjust="spacingAndGlyphs">Formal dealers</text>
<text x="244.68" y="536.90" font-size="11.2" class="serif" style="stroke-width:0.3px" textLength="25.31" lengthAdjust="spacingAndGlyphs">12%</text>
<clipPath id="cb4"><rect x="118.70" y="562.54" width="119.68" height="14.5"/></clipPath>
<rect x="118.70" y="562.54" width="119.68" height="14.5" fill="#eefae6"/>
<path clip-path="url(#cb4)" d="M103.20 561.54l16.5 16.5M105.92 561.54l16.5 16.5M108.64 561.54l16.5 16.5M111.36 561.54l16.5 16.5M114.08 561.54l16.5 16.5M116.80 561.54l16.5 16.5M119.52 561.54l16.5 16.5M122.24 561.54l16.5 16.5M124.96 561.54l16.5 16.5M127.68 561.54l16.5 16.5M130.40 561.54l16.5 16.5M133.12 561.54l16.5 16.5M135.84 561.54l16.5 16.5M138.56 561.54l16.5 16.5M141.28 561.54l16.5 16.5M144.00 561.54l16.5 16.5M146.72 561.54l16.5 16.5M149.44 561.54l16.5 16.5M152.16 561.54l16.5 16.5M154.88 561.54l16.5 16.5M157.60 561.54l16.5 16.5M160.32 561.54l16.5 16.5M163.04 561.54l16.5 16.5M165.76 561.54l16.5 16.5M168.48 561.54l16.5 16.5M171.20 561.54l16.5 16.5M173.92 561.54l16.5 16.5M176.64 561.54l16.5 16.5M179.36 561.54l16.5 16.5M182.08 561.54l16.5 16.5M184.80 561.54l16.5 16.5M187.52 561.54l16.5 16.5M190.24 561.54l16.5 16.5M192.96 561.54l16.5 16.5M195.68 561.54l16.5 16.5M198.40 561.54l16.5 16.5M201.12 561.54l16.5 16.5M203.84 561.54l16.5 16.5M206.56 561.54l16.5 16.5M209.28 561.54l16.5 16.5M212.00 561.54l16.5 16.5M214.72 561.54l16.5 16.5M217.44 561.54l16.5 16.5M220.16 561.54l16.5 16.5M222.88 561.54l16.5 16.5M225.60 561.54l16.5 16.5M228.32 561.54l16.5 16.5M231.04 561.54l16.5 16.5M233.76 561.54l16.5 16.5M236.48 561.54l16.5 16.5M239.20 561.54l16.5 16.5" stroke="#44cc20" stroke-width="1.2" fill="none"/>
<rect x="118.70" y="562.54" width="119.68" height="14.5" fill="none" stroke="#38561a" stroke-width="1.45"/>
<text x="15.60" y="572.54" font-size="9.4" style="stroke-width:0.2px" textLength="92.80" lengthAdjust="spacingAndGlyphs">Individual consumers</text>
<text x="244.68" y="573.44" font-size="11.2" class="serif" style="stroke-width:0.3px" textLength="25.31" lengthAdjust="spacingAndGlyphs">12%</text>
<clipPath id="cb5"><rect x="118.70" y="599.09" width="49.05" height="14.5"/></clipPath>
<rect x="118.70" y="599.09" width="49.05" height="14.5" fill="#eefae6"/>
<path clip-path="url(#cb5)" d="M103.20 598.09l16.5 16.5M105.92 598.09l16.5 16.5M108.64 598.09l16.5 16.5M111.36 598.09l16.5 16.5M114.08 598.09l16.5 16.5M116.80 598.09l16.5 16.5M119.52 598.09l16.5 16.5M122.24 598.09l16.5 16.5M124.96 598.09l16.5 16.5M127.68 598.09l16.5 16.5M130.40 598.09l16.5 16.5M133.12 598.09l16.5 16.5M135.84 598.09l16.5 16.5M138.56 598.09l16.5 16.5M141.28 598.09l16.5 16.5M144.00 598.09l16.5 16.5M146.72 598.09l16.5 16.5M149.44 598.09l16.5 16.5M152.16 598.09l16.5 16.5M154.88 598.09l16.5 16.5M157.60 598.09l16.5 16.5M160.32 598.09l16.5 16.5M163.04 598.09l16.5 16.5M165.76 598.09l16.5 16.5M168.48 598.09l16.5 16.5" stroke="#44cc20" stroke-width="1.2" fill="none"/>
<rect x="118.70" y="599.09" width="49.05" height="14.5" fill="none" stroke="#38561a" stroke-width="1.45"/>
<text x="37.40" y="609.09" font-size="9.4" style="stroke-width:0.2px" textLength="69.40" lengthAdjust="spacingAndGlyphs">Bulk consumers</text>
<text x="174.05" y="609.99" font-size="11.2" class="serif" style="stroke-width:0.3px" textLength="18.98" lengthAdjust="spacingAndGlyphs">5%</text>
<clipPath id="cb6"><rect x="118.70" y="635.63" width="38.96" height="14.5"/></clipPath>
<rect x="118.70" y="635.63" width="38.96" height="14.5" fill="#eefae6"/>
<path clip-path="url(#cb6)" d="M103.20 634.63l16.5 16.5M105.92 634.63l16.5 16.5M108.64 634.63l16.5 16.5M111.36 634.63l16.5 16.5M114.08 634.63l16.5 16.5M116.80 634.63l16.5 16.5M119.52 634.63l16.5 16.5M122.24 634.63l16.5 16.5M124.96 634.63l16.5 16.5M127.68 634.63l16.5 16.5M130.40 634.63l16.5 16.5M133.12 634.63l16.5 16.5M135.84 634.63l16.5 16.5M138.56 634.63l16.5 16.5M141.28 634.63l16.5 16.5M144.00 634.63l16.5 16.5M146.72 634.63l16.5 16.5M149.44 634.63l16.5 16.5M152.16 634.63l16.5 16.5M154.88 634.63l16.5 16.5M157.60 634.63l16.5 16.5" stroke="#44cc20" stroke-width="1.2" fill="none"/>
<rect x="118.70" y="635.63" width="38.96" height="14.5" fill="none" stroke="#38561a" stroke-width="1.45"/>
<text x="76.00" y="645.63" font-size="9.4" style="stroke-width:0.2px" textLength="30.00" lengthAdjust="spacingAndGlyphs">Others</text>
<text x="163.96" y="646.53" font-size="11.2" class="serif" style="stroke-width:0.3px" textLength="18.98" lengthAdjust="spacingAndGlyphs">4%</text>
</svg>
</body></html>
